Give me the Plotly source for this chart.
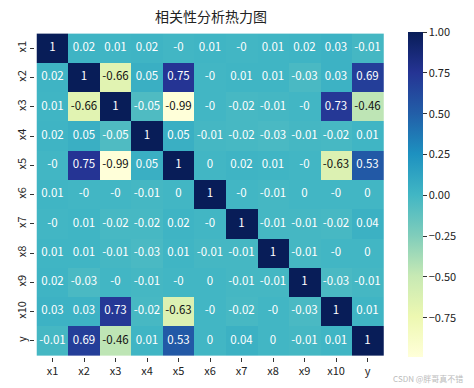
import plotly.graph_objects as go

labels = ["x1", "x2", "x3", "x4", "x5", "x6", "x7", "x8", "x9", "x10", "y"]

row_x1 = [1, 0.02, 0.01, 0.02, -0.0, 0.01, -0.0, 0.01, 0.02, 0.03, -0.01]
row_x2 = [0.02, 1, -0.66, 0.05, 0.75, -0.0, 0.01, 0.01, -0.03, 0.03, 0.69]
row_x3 = [0.01, -0.66, 1, -0.05, -0.99, -0.0, -0.02, -0.01, -0.0, 0.73, -0.46]
row_x4 = [0.02, 0.05, -0.05, 1, 0.05, -0.01, -0.02, -0.03, -0.01, -0.02, 0.01]
row_x5 = [-0.0, 0.75, -0.99, 0.05, 1, 0.0, 0.02, 0.01, -0.0, -0.63, 0.53]
row_x6 = [0.01, -0.0, -0.0, -0.01, 0.0, 1, -0.0, -0.01, 0.0, -0.0, 0.0]
row_x7 = [-0.0, 0.01, -0.02, -0.02, 0.02, -0.0, 1, -0.01, -0.01, -0.02, 0.04]
row_x8 = [0.01, 0.01, -0.01, -0.03, 0.01, -0.01, -0.01, 1, -0.01, -0.0, 0.0]
row_x9 = [0.02, -0.03, -0.0, -0.01, -0.0, 0.0, -0.01, -0.01, 1, -0.03, -0.01]
row_x10 = [0.03, 0.03, 0.73, -0.02, -0.63, -0.0, -0.02, -0.0, -0.03, 1, 0.01]
row_y = [-0.01, 0.69, -0.46, 0.01, 0.53, 0.0, 0.04, 0.0, -0.01, 0.01, 1]

matrix = [row_x1, row_x2, row_x3, row_x4, row_x5, row_x6, row_x7, row_x8, row_x9, row_x10, row_y]

colorbar_ticks = [1.0, 0.75, 0.5, 0.25, 0.0, -0.25, -0.5, -0.75]

ylgnbu = ["#ffffd9", "#edf8b1", "#c7e9b4", "#7fcdbb", "#41b6c4",
          "#1d91c0", "#225ea8", "#253494", "#081d58"]
colorscale = [[i / 8, c] for i, c in enumerate(ylgnbu)]

FONT = "Noto Sans CJK SC, SimHei, sans-serif"

zmin = min(min(r) for r in matrix)
zmax = max(max(r) for r in matrix)

fig = go.Figure()
fig.add_trace(go.Heatmap(
    z=matrix, x=labels, y=labels,
    colorscale=colorscale, zmin=zmin, zmax=zmax,
    hoverinfo="skip",
    colorbar=dict(
        x=1.066, xanchor="left", y=0.5, yanchor="middle",
        len=1.0, lenmode="fraction", thickness=15, xpad=0, ypad=0,
        outlinewidth=0,
        tickvals=colorbar_ticks, tickformat=".2f",
        ticks="outside", ticklen=4, tickcolor="#333",
        tickfont=dict(family=FONT, size=11, color="#222"),
    ),
))

tx, ty, tt, tc = [], [], [], []
for i, r in enumerate(labels):
    for j, c in enumerate(labels):
        v = matrix[i][j]
        tx.append(c)
        ty.append(r)
        tt.append(f"{v:g}")
        tc.append("#111111" if v < -0.3 else "#ffffff")

fig.add_trace(go.Scatter(
    x=tx, y=ty, mode="text", text=tt,
    textfont=dict(family=FONT, size=11.5, color=tc),
    hoverinfo="skip", showlegend=False,
))

fig.update_layout(
    width=474, height=388,
    margin=dict(l=35, r=89, t=32, b=31, autoexpand=False),
    paper_bgcolor="white", plot_bgcolor="white",
    title=dict(text="相关性分析热力图", x=0.445, xanchor="center", y=0.955, yanchor="middle",
               font=dict(family=FONT, size=14, color="#222")),
    xaxis=dict(showgrid=False, zeroline=False, ticks="outside", ticklen=4, tickcolor="#333",
               tickfont=dict(family=FONT, size=11, color="#222")),
    yaxis=dict(showgrid=False, zeroline=False, autorange="reversed", ticks="outside",
               ticklen=4, tickcolor="#333", tickangle=-90,
               tickfont=dict(family=FONT, size=11, color="#222")),
    showlegend=False,
    annotations=[dict(text="CSDN @胖哥真不错", xref="paper", yref="paper",
                      x=1.229, y=-0.065, xanchor="right", yanchor="middle", showarrow=False,
                      font=dict(family=FONT, size=8, color="#bbbbbb"))],
)

fig.write_html("out.html",
               config={"displayModeBar": False, "staticPlot": True},
               post_script="document.body.style.margin='0px';document.body.style.overflow='hidden';")
